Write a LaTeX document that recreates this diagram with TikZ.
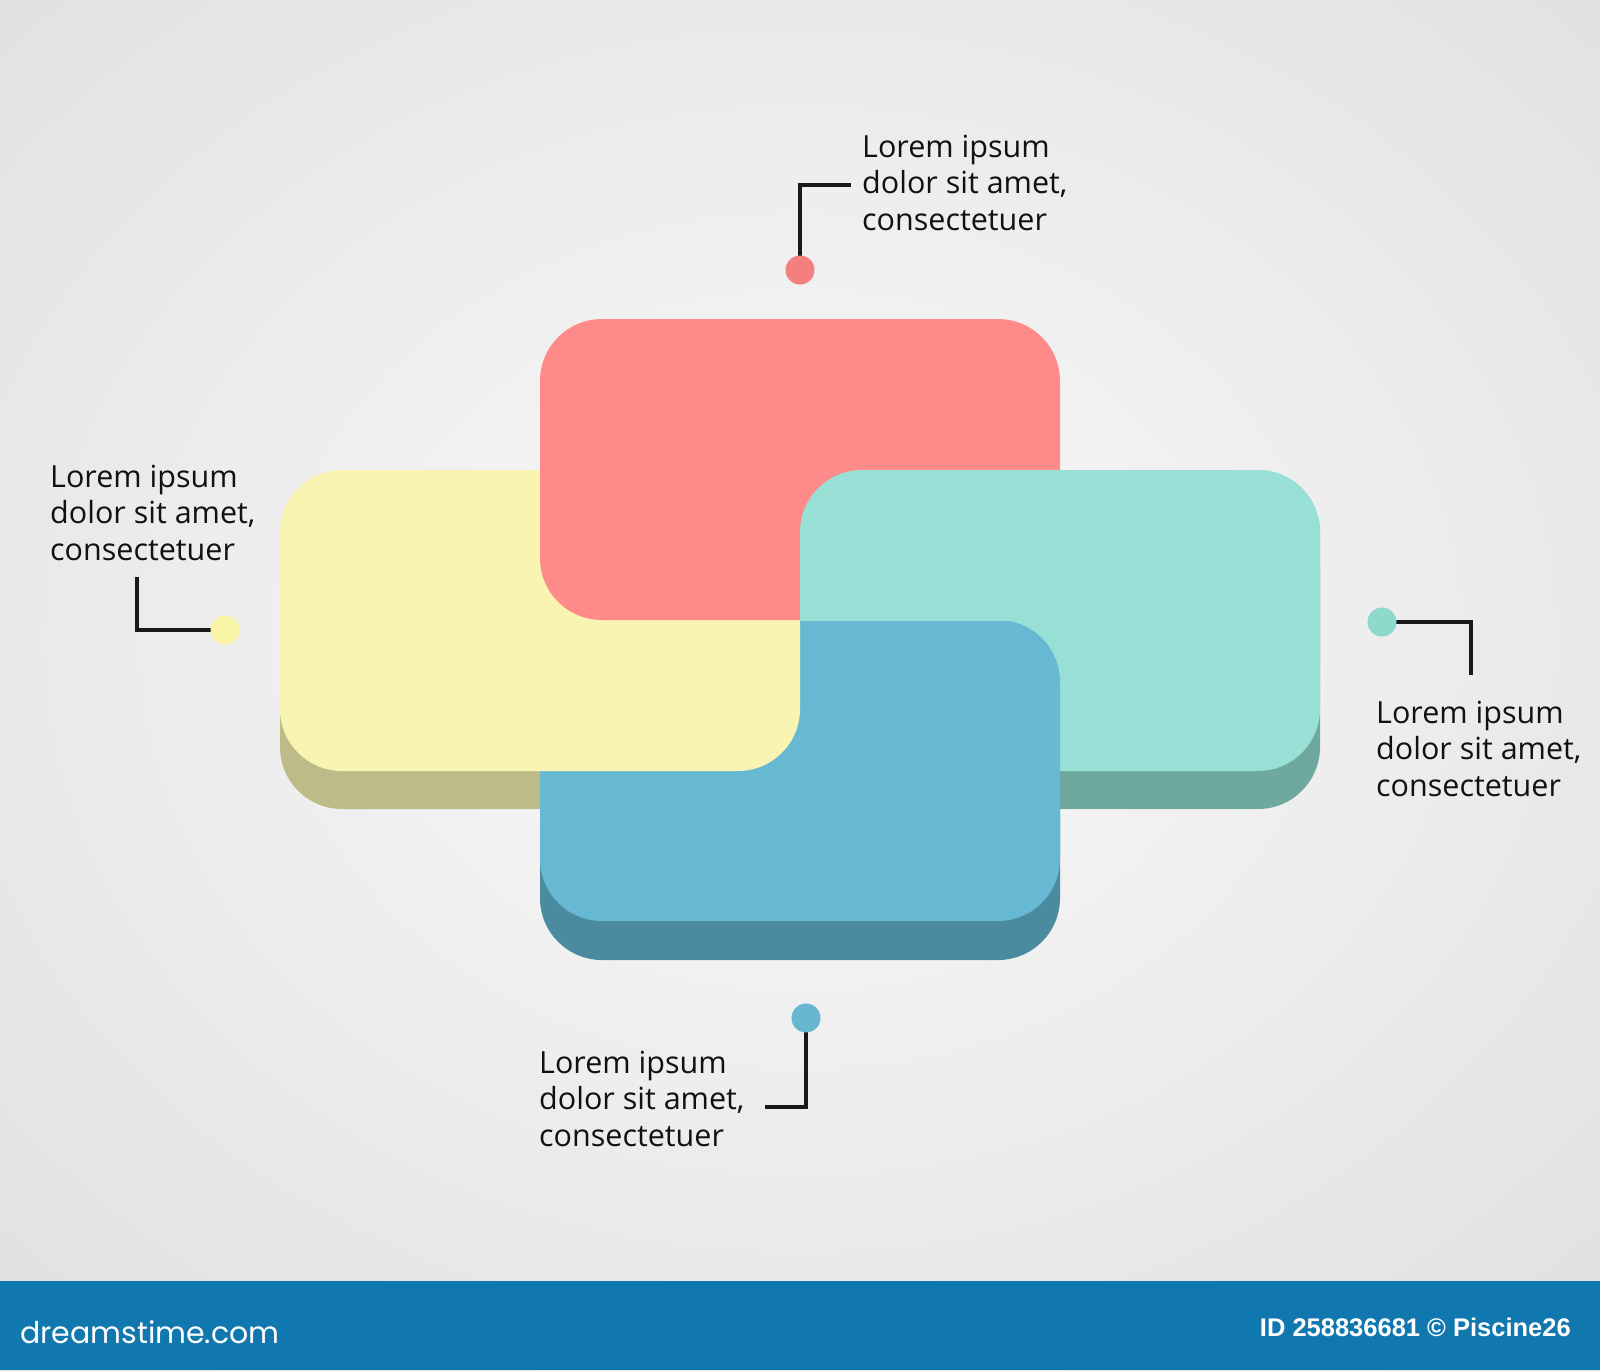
\documentclass[tikz,border=0pt]{standalone}
\usepackage{fontspec}
\setmainfont{Open Sans}
\newfontfamily\barfont{Liberation Sans}
\newfontfamily\logofont{Poppins}
\definecolor{redface}{HTML}{FF8A8A}
\definecolor{yelface}{HTML}{F9F4B2}
\definecolor{yelshad}{HTML}{BDBB88}
\definecolor{tealface}{HTML}{98E0D6}
\definecolor{tealshad}{HTML}{6FA89F}
\definecolor{blueface}{HTML}{67B9D3}
\definecolor{blueshad}{HTML}{4A8BA0}
\definecolor{reddot}{HTML}{F47F7F}
\definecolor{yeldot}{HTML}{F8F3A6}
\definecolor{tealdot}{HTML}{8ED8CC}
\definecolor{bluedot}{HTML}{67B7D1}
\definecolor{barblue}{HTML}{1177AF}
\definecolor{bgin}{HTML}{FAFAFA}
\definecolor{bgout}{HTML}{E2E2E2}
\definecolor{txt}{HTML}{111111}
\begin{document}
\begin{tikzpicture}[x=1pt,y=-1pt,
  tile/.style={rounded corners=62pt},
  dotnode/.style={circle,minimum size=29pt,inner sep=0pt},
  conn/.style={line width=3.2pt,draw=black!90},
  lbl/.style={anchor=base west,inner sep=0pt,align=left,text=txt,
    font=\fontsize{30.5}{36.7}\selectfont}]
\useasboundingbox (0,0) rectangle (1600,1370);
% background
\shade[inner color=bgin,outer color=bgout] (-300,-250) rectangle (1900,1530);
\fill[barblue] (0,1281) rectangle (1600,1370);
% shadows
\fill[yelshad,tile] (280,508) rectangle (800,809);
\fill[tealshad,tile] (800,508) rectangle (1320,809);
\fill[blueshad,tile] (540,659) rectangle (1060,960);
% faces (cyclic weave)
\fill[tealface,tile] (800,470) rectangle (1320,771);
\fill[blueface,tile] (540,620) rectangle (1060,921);
\fill[yelface,tile] (280,470) rectangle (800,771);
\fill[redface,tile] (540,319) rectangle (1060,620);
\begin{scope}
  \clip (800,430) rectangle (1340,620);
  \fill[tealface,tile] (800,470) rectangle (1320,771);
\end{scope}
% callouts
\coordinate (rend) at (851,185);
\coordinate (yend) at (137,577);
\coordinate (tend) at (1471,675);
\coordinate (bend) at (765,1107);
\draw[conn] (800,270) |- (rend);
\draw[conn] (225,630) -| (yend);
\draw[conn] (1382,622) -| (tend);
\draw[conn] (806,1018) |- (bend);
\node[dotnode,fill=reddot] (rdot) at (800,270) {};
\node[dotnode,fill=yeldot] (ydot) at (225,630) {};
\node[dotnode,fill=tealdot] (tdot) at (1382,622) {};
\node[dotnode,fill=bluedot] (bdot) at (806,1018) {};
\node[lbl] (rtxt) at (862,230.4) {Lorem ipsum\\dolor sit amet,\\consectetuer};
\node[lbl] (ytxt) at (50,560.4) {Lorem ipsum\\dolor sit amet,\\consectetuer};
\node[lbl] (ttxt) at (1376,796.4) {Lorem ipsum\\dolor sit amet,\\consectetuer};
\node[lbl] (btxt) at (539,1146.4) {Lorem ipsum\\dolor sit amet,\\consectetuer};
% bottom bar texts
\node[anchor=base west,inner sep=0pt,text=white,font=\logofont\fontsize{30}{30}\selectfont] (logo) at (20,1343) {dreamstime.com};
\node[anchor=base east,inner sep=0pt,text=white,font=\barfont\bfseries\fontsize{25.5}{26}\selectfont] (idtxt) at (1571,1336) {ID 258836681 © Piscine26};
\end{tikzpicture}
\end{document}
